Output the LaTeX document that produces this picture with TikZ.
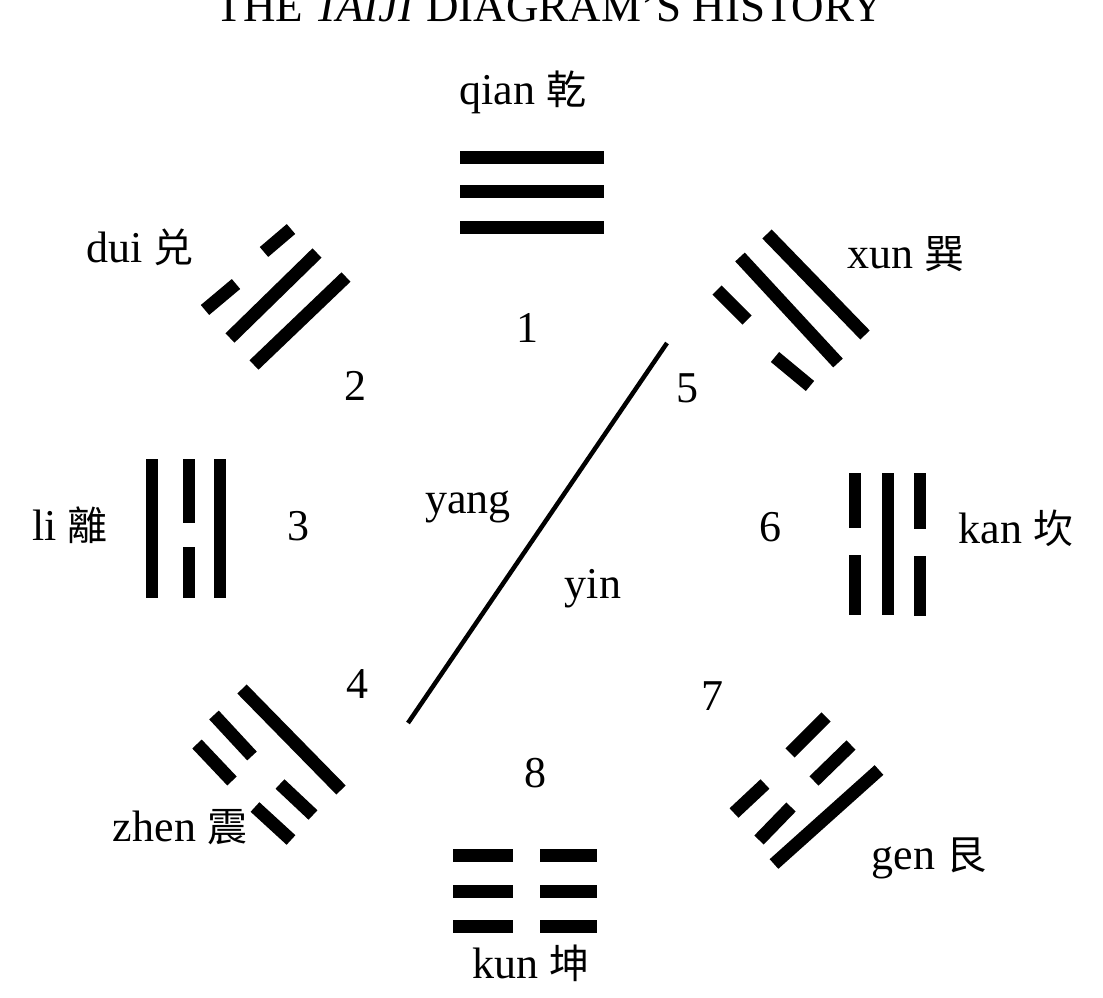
\documentclass[tikz,border=0pt]{standalone}
\usepackage{fontspec}
\setmainfont{Liberation Serif}
\newfontfamily\cjk{Noto Sans CJK SC}
\newcommand{\zh}[1]{{\cjk\fontsize{40}{44}\selectfont #1}}
\begin{document}
\begin{tikzpicture}[x=1pt,y=-1pt,
  bar/.style={line width=13pt, line cap=butt},
  vbar/.style={line width=12pt, line cap=butt},
  lbl/.style={anchor=base, inner sep=0pt, font=\fontsize{44}{50}\selectfont}]
\useasboundingbox (0,0) rectangle (1103,998);
\clip (0,0) rectangle (1103,998);
% title (cut off at top)
\node[anchor=base, inner sep=0pt, font=\fontsize{45}{50}\selectfont] (title) at (550,22) {THE \textit{TAIJI} DIAGRAM'S HISTORY};
% labels
\node[lbl] (qian) at (523,104) {qian \zh{乾}};
\node[lbl] (dui) at (140,262) {dui \zh{兑}};
\node[lbl] (xun) at (906,268) {xun \zh{巽}};
\node[lbl] (li) at (70,540) {li \zh{離}};
\node[lbl] (kan) at (1016,543) {kan \zh{坎}};
\node[lbl] (zhen) at (180,841) {zhen \zh{震}};
\node[lbl] (gen) at (929,869) {gen \zh{艮}};
\node[lbl] (kun) at (531,978) {kun \zh{坤}};
% numbers
\node[lbl] (n1) at (527,342) {1};
\node[lbl] (n2) at (355,400) {2};
\node[lbl] (n3) at (298,540) {3};
\node[lbl] (n4) at (357,698) {4};
\node[lbl] (n5) at (687,402) {5};
\node[lbl] (n6) at (770,541) {6};
\node[lbl] (n7) at (712,710) {7};
\node[lbl] (n8) at (535,787) {8};
\node[lbl] (yang) at (468,513) {yang};
\node[lbl] (yin) at (593,598) {yin};
% dividing line
\coordinate (top) at (667,343);
\coordinate (bot) at (408,723);
\draw[line width=4.5pt] (top) -- (bot);
% qian
\draw[bar] (460,157) -- (604,157);
\draw[bar] (460,191) -- (604,191);
\draw[bar] (460,227) -- (604,227);
% kun
\foreach \y in {855,891,926}{
  \draw[bar] (453,\y) -- (513,\y);
  \draw[bar] (540,\y) -- (597,\y);
}
% li
\draw[vbar] (152,459) -- (152,598);
\draw[vbar] (189,459) -- (189,523);
\draw[vbar] (189,547) -- (189,598);
\draw[vbar] (220,459) -- (220,598);
% kan
\draw[vbar] (855,473) -- (855,528);
\draw[vbar] (855,555) -- (855,615);
\draw[vbar] (888,473) -- (888,615);
\draw[vbar] (920,473) -- (920,529);
\draw[vbar] (920,556) -- (920,616);
% dui
\draw[bar] (205,310) -- (236,284);
\draw[bar] (264,252) -- (291,229);
\draw[bar] (230,338) -- (317,253);
\draw[bar] (254,365) -- (346,277);
% xun
\draw[bar] (767,234) -- (865,335);
\draw[bar] (740,257) -- (838,363);
\draw[bar] (717,290) -- (747,320);
\draw[bar] (775,357) -- (810,386);
% zhen
\draw[bar] (242,689) -- (341,790);
\draw[bar] (214,715) -- (252,756);
\draw[bar] (280,784) -- (313,815);
\draw[bar] (197,744) -- (232,781);
\draw[bar] (255,807) -- (291,840);
% gen
\draw[bar] (790,753) -- (826,717);
\draw[bar] (734,813) -- (765,784);
\draw[bar] (814,781) -- (851,745);
\draw[bar] (759,840) -- (791,807);
\draw[bar] (774,864) -- (879,770);
\end{tikzpicture}
\end{document}
